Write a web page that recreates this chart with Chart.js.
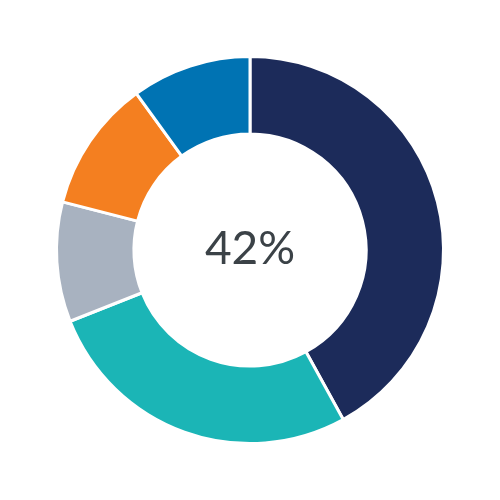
<!DOCTYPE html>
<html>
<head>
<meta charset="utf-8">
<script src="https://cdn.jsdelivr.net/npm/chart.js@4"></script>
<style>
html,body{margin:0;padding:0;background:#fff;}
#wrap{position:relative;width:500px;height:500px;}
#center{position:absolute;left:0;top:-4px;width:500px;height:500px;display:flex;align-items:center;justify-content:center;font-family:"Lato",sans-serif;font-size:46px;color:#3b4247;pointer-events:none;}
</style>
</head>
<body>
<div id="wrap"><canvas id="c" width="500" height="500"></canvas><div id="center"><span id="lbl"></span></div></div>
<script>
const categories = ["A","B","C","D","E"];
const values = [42, 27, 10, 11, 10];
const colors = ["#1c2b5a", "#1bb5b6", "#a8b2c0", "#f47f20", "#0073b3"];
const centerLabel = "42%";

document.getElementById('lbl').textContent = centerLabel;
new Chart(document.getElementById('c'), {
  type: 'doughnut',
  data: {
    labels: categories,
    datasets: [{data: values, backgroundColor: colors, borderColor: '#ffffff', borderWidth: 3}]
  },
  options: {
    responsive: false,
    animation: false,
    cutout: '60%',
    layout: {padding: 55},
    plugins: {legend: {display: false}, tooltip: {enabled: false}}
  }
});
</script>
</body>
</html>
